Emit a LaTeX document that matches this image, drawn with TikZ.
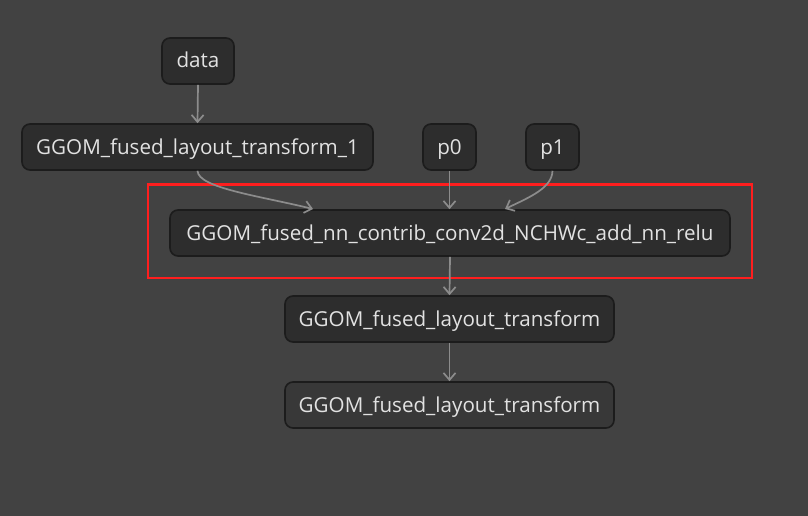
\documentclass[tikz,border=0pt]{standalone}
\usepackage{fontspec}
\setmainfont{Open Sans}
\usetikzlibrary{arrows.meta}
\definecolor{bg}{HTML}{424242}
\definecolor{nodefill}{HTML}{2D2D2D}
\definecolor{nodefillb}{HTML}{383838}
\definecolor{nodeline}{HTML}{1C1C1C}
\definecolor{edge}{HTML}{8C8C8C}
\definecolor{txt}{HTML}{E2E2E2}
\definecolor{hl}{HTML}{FF1E1E}
\tikzset{
  opbox/.style={draw=nodeline, line width=1.6pt, fill=nodefill, rounded corners=8pt,
    text=txt, font=\fontsize{20.6}{24}\selectfont, minimum height=46pt, inner xsep=6pt, inner ysep=0pt,
    text height=17pt, text depth=3pt},
  conn/.style={draw=edge, line width=1.7pt, -{Straight Barb[length=7pt,width=12pt,line width=1.7pt]}},
  hlbox/.style={draw=hl, line width=2.4pt}
}
\begin{document}
\begin{tikzpicture}[x=1pt,y=-1pt]
\fill[bg] (0,0) rectangle (808,516);
\useasboundingbox (0,0) rectangle (808,516);
\node[opbox, minimum width=72pt] (data) at (198,61) {data};
\node[opbox, minimum width=351pt] (lt1) at (197.5,147) {GGOM\_fused\_layout\_transform\_1};
\node[opbox, minimum width=53pt] (p0) at (449.5,147) {p0};
\node[opbox, minimum width=53pt] (p1) at (552.5,147) {p1};
\node[opbox, minimum width=560pt] (conv) at (450,233) {GGOM\_fused\_nn\_contrib\_conv2d\_NCHWc\_add\_nn\_relu};
\node[opbox, minimum width=329pt] (lt) at (449.5,319) {GGOM\_fused\_layout\_transform};
\node[opbox, minimum width=329pt, fill=nodefillb] (lt2) at (449.5,405) {GGOM\_fused\_layout\_transform};
\draw[hlbox] (148,184.5) rectangle (752,278);
\coordinate (convin1) at (313,209);
\coordinate (convin3) at (505,209);
\draw[conn] (data.south) -- (lt1.north);
\draw[conn] (lt1.south) .. controls (198,188) and (260,196) .. (convin1);
\draw[conn] (p0.south) -- (p0.south |- conv.north);
\draw[conn] (p1.south) .. controls (552,188) and (530,197) .. (convin3);
\draw[conn] (conv.south) -- (lt.north);
\draw[conn] (lt.south) -- (lt2.north);
\end{tikzpicture}
\end{document}
